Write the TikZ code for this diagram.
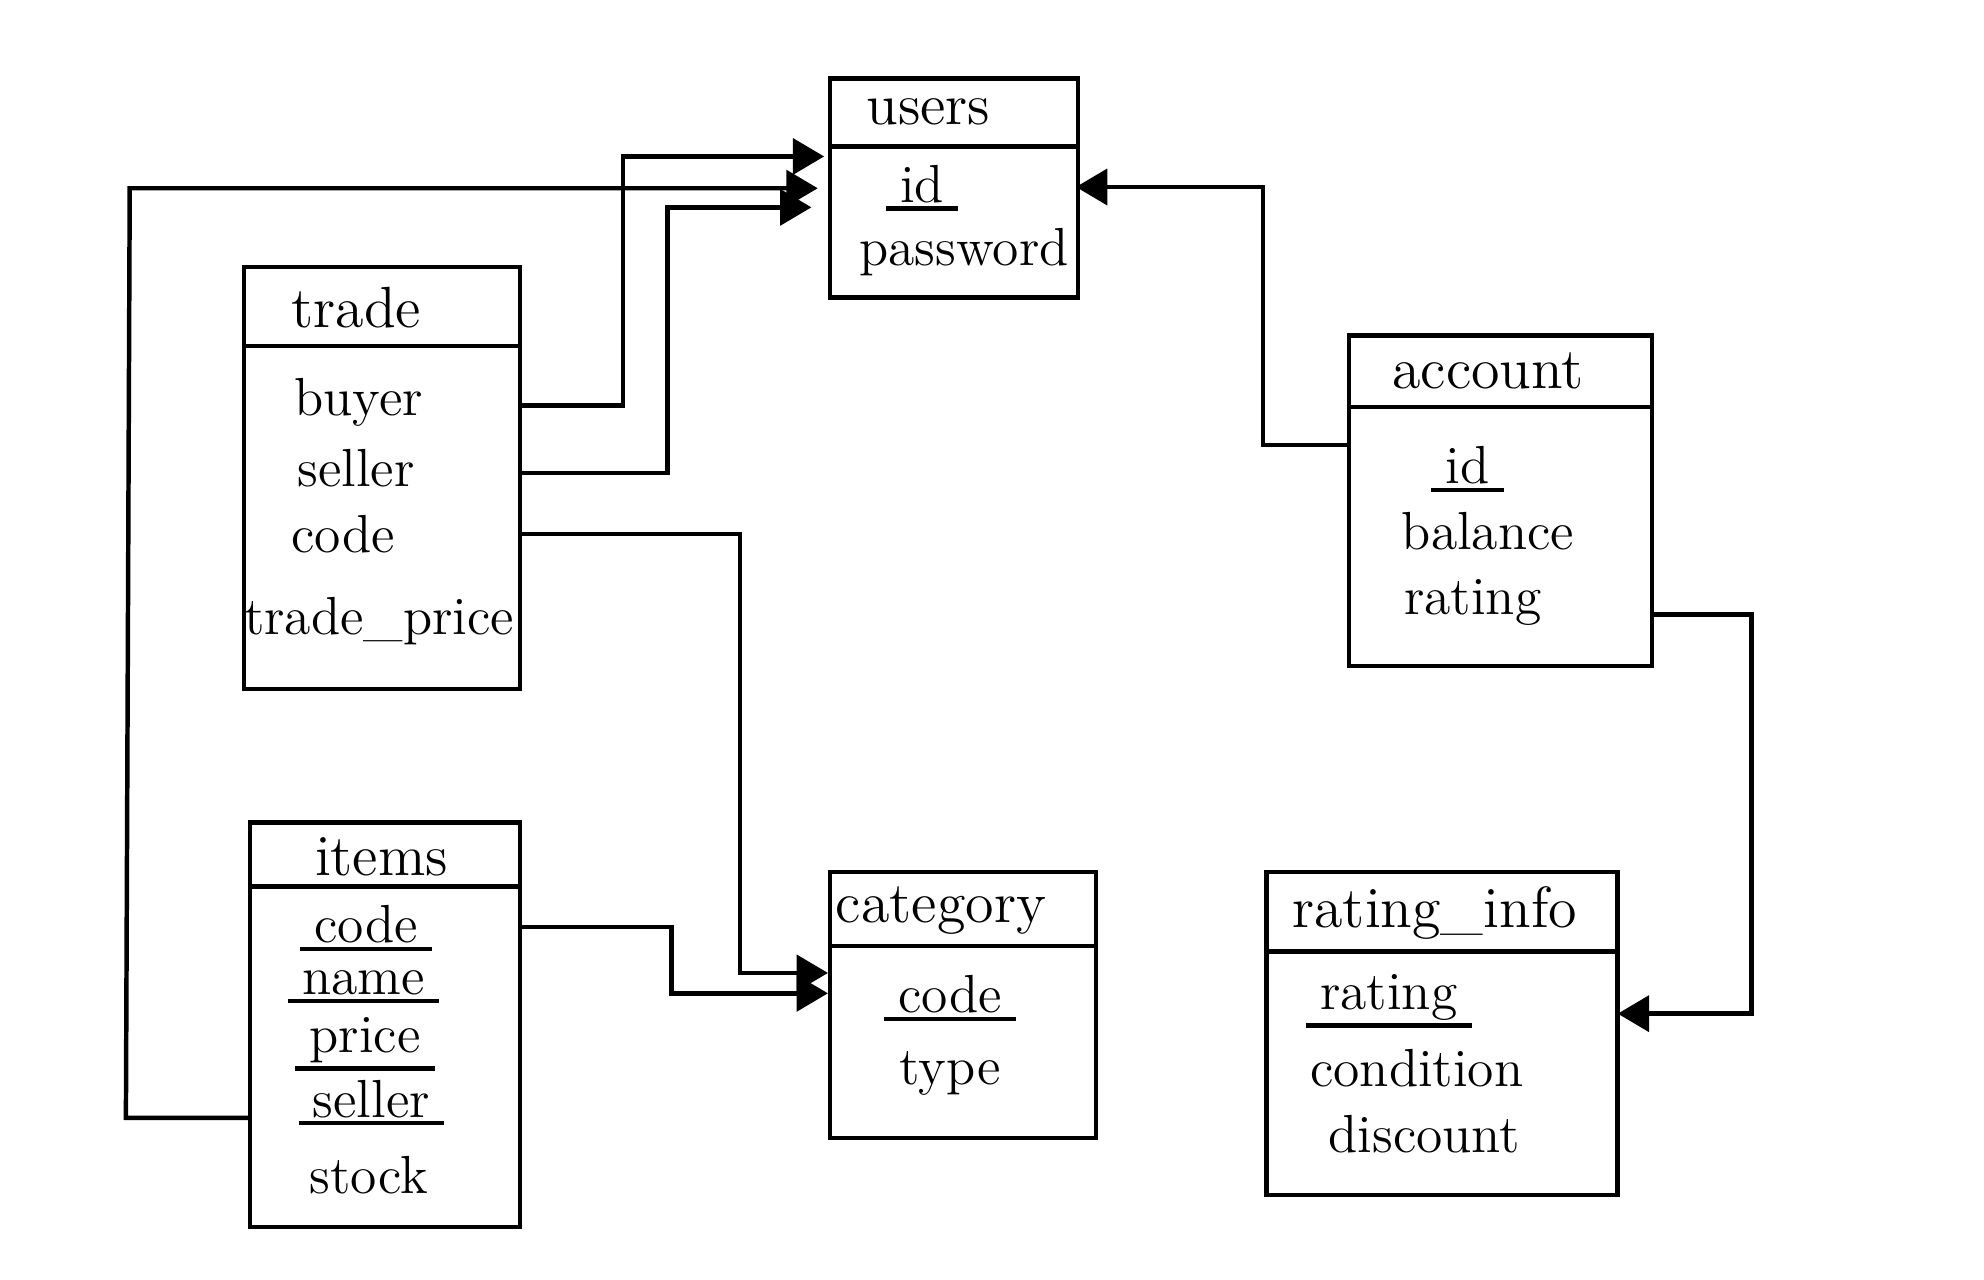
\documentclass[tikz,border=0pt]{standalone}
\usetikzlibrary{arrows.meta,calc}
\begin{document}
\begin{tikzpicture}[
  box/.style={draw, line width=1pt, anchor=north west, inner sep=0pt},
  fld/.style={font=\fontsize{12}{14}\selectfont, inner sep=1pt},
  ttl/.style={font=\fontsize{13}{15}\selectfont, inner sep=1pt},
  ul/.style={append after command={
     (\tikzlastnode.south west) edge[line width=1pt,shorten <=-2pt,shorten >=-2pt] (\tikzlastnode.south east)}},
  link/.style={line width=1pt, -{Triangle[length=7pt,width=8pt]}}
]
\useasboundingbox (0,0) rectangle (15.6,-10.06);

% boxes
\node[box, minimum width=1.95cm, minimum height=1.72cm] (users) at (6.51,-0.60) {};
\node[box, minimum width=2.17cm, minimum height=3.32cm] (trade) at (1.90,-2.08) {};
\node[box, minimum width=2.38cm, minimum height=2.60cm] (account) at (10.59,-2.62) {};
\node[box, minimum width=2.12cm, minimum height=3.18cm] (items) at (1.95,-6.45) {};
\node[box, minimum width=2.09cm, minimum height=2.09cm] (category) at (6.51,-6.84) {};
\node[box, minimum width=2.76cm, minimum height=2.54cm] (rating) at (9.94,-6.84) {};

% header lines
\draw[line width=1pt] (6.51,-1.15) -- (8.46,-1.15);
\draw[line width=1pt] (1.90,-2.72) -- (4.07,-2.72);
\draw[line width=1pt] (10.59,-3.20) -- (12.97,-3.20);
\draw[line width=1pt] (1.95,-6.97) -- (4.07,-6.97);
\draw[line width=1pt] (6.51,-7.44) -- (8.60,-7.44);
\draw[line width=1pt] (9.94,-7.48) -- (12.70,-7.48);

% titles
\node[ttl] (tu) at (7.30,-0.88) {users};
\node[ttl] (tt) at (2.80,-2.42) {trade};
\node[ttl] (ta) at (11.70,-2.92) {account};
\node[ttl] (ti) at (3.00,-6.74) {items};
\node[ttl] (tc) at (7.40,-7.16) {category};
\node[ttl] (tr) at (11.28,-7.18) {rating\_info};

% fields
\node[fld, ul] (uid) at (7.25,-1.45) {id};
\node[fld] (upw) at (7.58,-1.98) {password};
\node[fld] (tbuy) at (2.82,-3.16) {buyer};
\node[fld] (tsel) at (2.80,-3.68) {seller};
\node[fld] (tcode) at (2.70,-4.20) {code};
\node[fld] (tpr) at (2.98,-4.88) {trade\_price};
\node[fld, ul] (aid) at (11.54,-3.66) {id};
\node[fld] (abal) at (11.70,-4.18) {balance};
\node[fld] (arat) at (11.58,-4.74) {rating};
\node[fld, ul] (icode) at (2.88,-7.27) {code};
\node[fld, ul] (iname) at (2.86,-7.73) {name};
\node[fld, ul] (iprice) at (2.87,-8.18) {price};
\node[fld, ul] (isel) at (2.92,-8.64) {seller};
\node[fld] (isto) at (2.90,-9.24) {stock};
\node[fld, ul] (ccode) at (7.47,-7.82) {code};
\node[fld] (ctype) at (7.47,-8.44) {type};
\node[fld, ul] (rrat) at (10.92,-7.84) {rating};
\node[fld] (rcon) at (11.14,-8.40) {condition};
\node[fld] (rdis) at (11.20,-8.92) {discount};

% connector ends
\coordinate (b1) at (4.07,-3.19);
\coordinate (e1) at (6.48,-1.23);
\coordinate (b2) at (4.07,-3.72);
\coordinate (e2) at (6.38,-1.63);
\coordinate (b3) at (1.95,-8.79);
\coordinate (e3) at (6.43,-1.48);
\coordinate (b4) at (10.59,-3.50);
\coordinate (e4) at (8.46,-1.47);
\coordinate (b5) at (12.97,-4.83);
\coordinate (e5) at (12.72,-7.97);
\coordinate (b6) at (4.07,-4.20);
\coordinate (e6) at (6.51,-7.65);
\coordinate (b7) at (4.07,-7.29);
\coordinate (e7) at (6.51,-7.81);

\draw[link] (b1) -- (4.90,-3.19) -- (4.90,-1.23) -- (e1);
\draw[link] (b2) -- (5.25,-3.72) -- (5.25,-1.63) -- (e2);
\draw[link] (b3) -- (0.99,-8.79) -- (1.02,-1.48) -- (e3);
\draw[link] (b4) -- (9.93,-3.50) -- (9.93,-1.47) -- (e4);
\draw[link] (b5) -- (13.77,-4.83) -- (13.77,-7.97) -- (e5);
\draw[link] (b6) -- (5.82,-4.20) -- (5.82,-7.65) -- (e6);
\draw[link] (b7) -- (5.28,-7.29) -- (5.28,-7.81) -- (e7);
\end{tikzpicture}
\end{document}
